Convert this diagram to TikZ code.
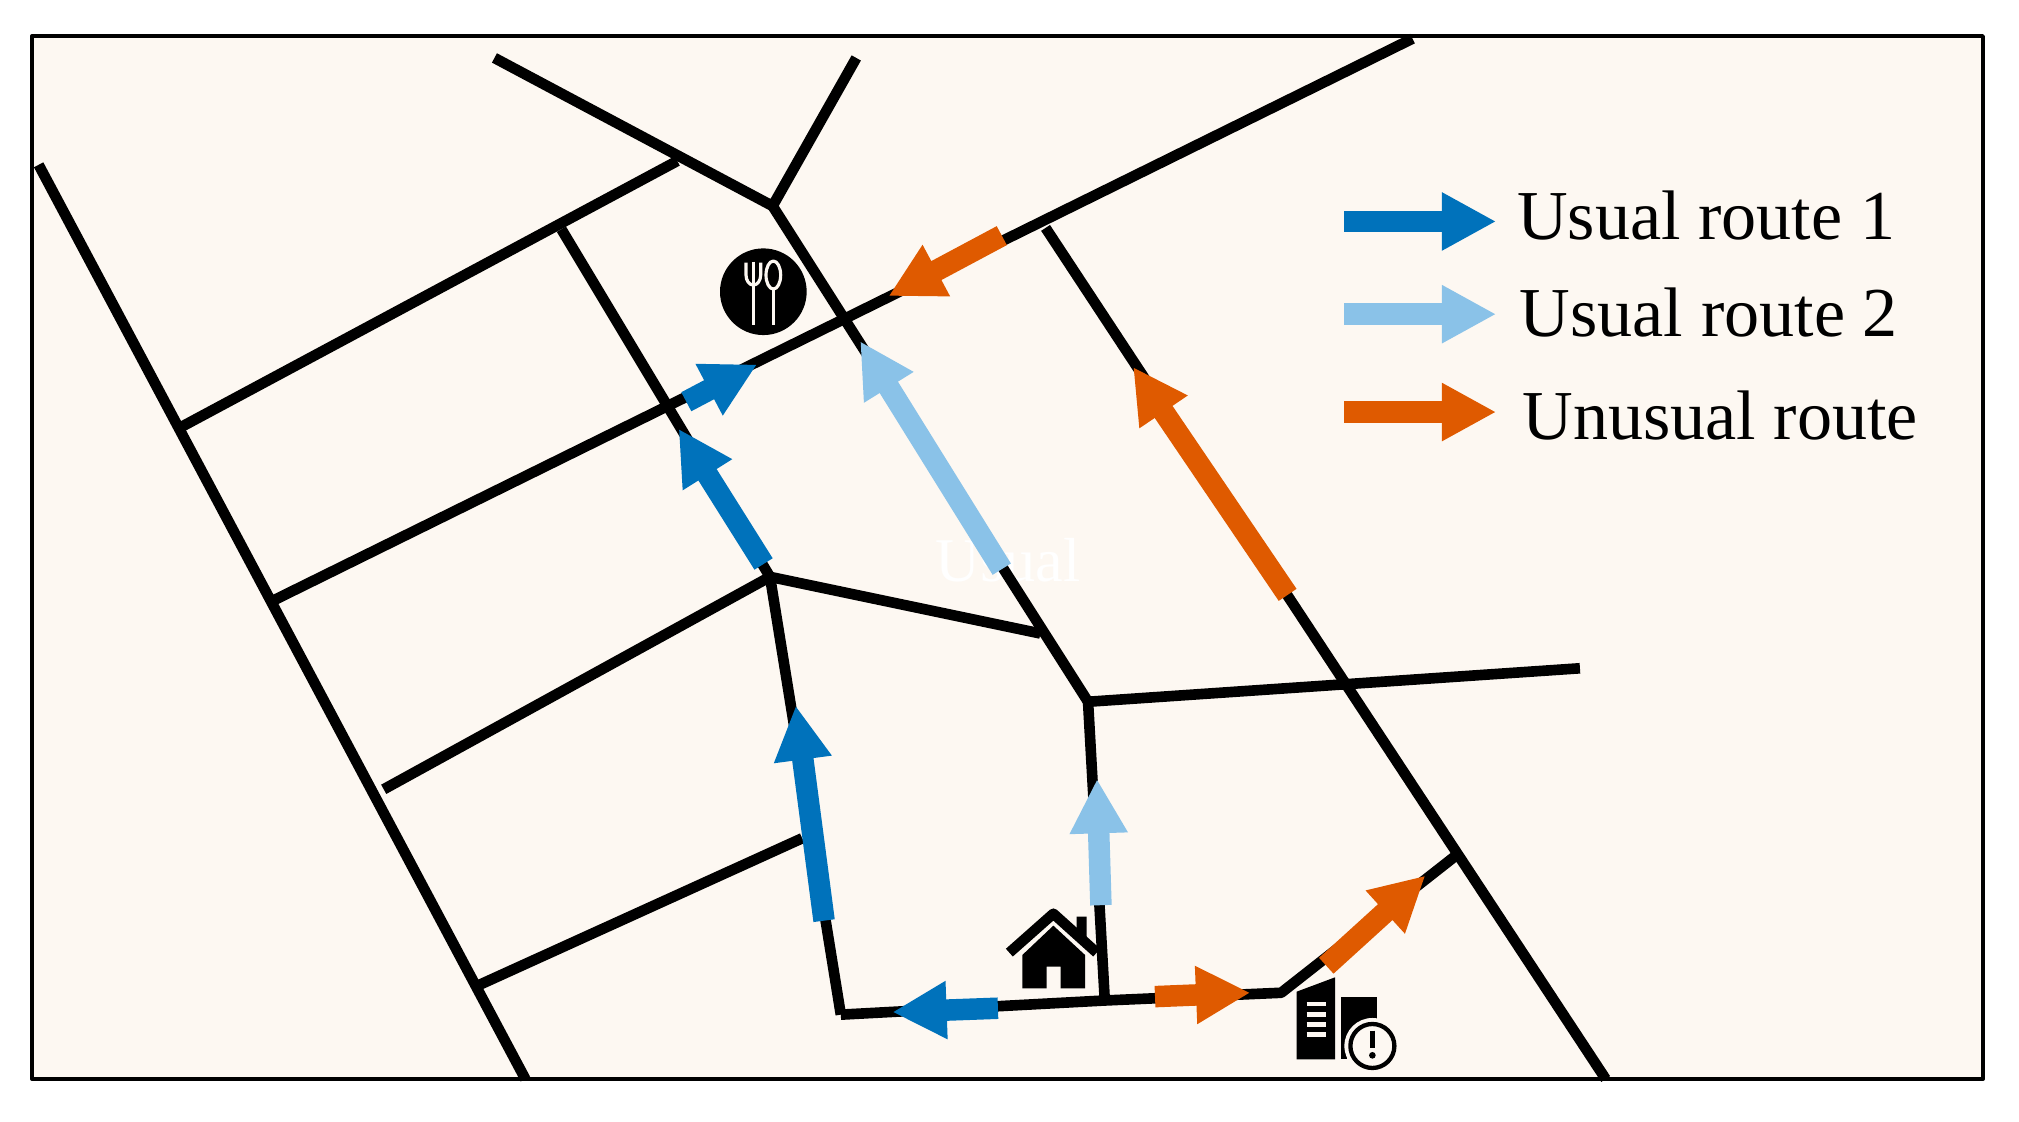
\documentclass[tikz,border=0pt]{standalone}
\usepackage{fontspec}
\setmainfont{Liberation Serif}
\usetikzlibrary{arrows.meta,positioning}
\definecolor{paper}{HTML}{FDF8F2}
\definecolor{routeone}{HTML}{0072BB}
\definecolor{routetwo}{HTML}{8AC2E8}
\definecolor{routeodd}{HTML}{DF5A00}
\tikzset{
    road/.style={line width=4.7pt,black},
    route/.style={line width=9.5pt,-{Triangle[length=24pt,width=24pt]}},
    legendtext/.style={anchor=base west,inner sep=0pt,font=\fontsize{31}{36}\selectfont},
}
\begin{document}
\begin{tikzpicture}[x=0.02cm,y=-0.02cm,line join=round]
    \useasboundingbox (0,0) rectangle (1568,871);
    \fill[white] (0,0) rectangle (1568,871);
    \draw[fill=paper,line width=1.7pt] (25,28) rectangle (1540,838);
    % hidden word
    \node[white,inner sep=0pt,font=\fontsize{27.5}{30}\selectfont] (hidden) at (783,435) {Usual};
    % junctions
    \coordinate (topfork) at (600,160);
    \coordinate (midleft) at (598,448);
    \coordinate (midright) at (808,492);
    \coordinate (crossing) at (845,545);
    \coordinate (corner) at (653,788);
    \coordinate (home) at (858,777);
    \coordinate (bend) at (995,771);
    \coordinate (sideend) at (1130,665);
    % roads
    \draw[road] (30,128)--(408,838);
    \draw[road] (140,332)--(526,125);
    \draw[road] (213,466)--(1097,30);
    \draw[road] (298,613)--(midleft);
    \draw[road] (372,765)--(623,651);
    \draw[road] (384,45)--(topfork)--(665,45);
    \draw[road] (topfork)--(crossing)--(1227,519);
    \draw[road] (crossing)--(home);
    \draw[road] (corner)--(home)--(bend)--(sideend);
    \draw[road] (436,178)--(midleft)--(corner);
    \draw[road] (midleft)--(midright);
    \draw[road] (812,177)--(1247,838);
    % routes
    \draw[route,routeone] (640,715)--(618,548);
    \draw[route,routeone] (593,438)--(527,333);
    \draw[route,routeone] (533,312)--(588,283);
    \draw[route,routeone] (775,783)--(693,786);
    \draw[route,routetwo] (855,703)--(852,605);
    \draw[route,routetwo] (778,442)--(668,265);
    \draw[route,routeodd] (1000,462)--(880,285);
    \draw[route,routeodd] (778,183)--(690,230);
    \draw[route,routeodd] (897,774)--(971,771);
    \draw[route,routeodd] (1030,750)--(1107,680);
    % legend
    \node[legendtext] (one) at (1178,186) {Usual route 1};
    \node[legendtext] (two) at (1180,261) {Usual route 2};
    \node[legendtext] (odd) at (1182,341) {Unusual route};
    \coordinate (onestart) at (1044,172);
    \coordinate (twostart) at (1044,244);
    \coordinate (oddstart) at (1044,320);
    \draw[route,routeone] (onestart)--(1162,172);
    \draw[route,routetwo] (twostart)--(1162,244);
    \draw[route,routeodd] (oddstart)--(1162,320);
    % restaurant
    \begin{scope}[shift={(504.8,170.9)},scale=0.2589]
        \fill (340,215) circle(130);
        \draw[paper,line width=1.4pt] (288,128)--(288,165) arc[start angle=180,end angle=360,x radius=22,y radius=-30]--(332,128);
        \draw[paper,line width=1.4pt] (310,125)--(310,315);
        \draw[paper,line width=1.4pt] (370,165) ellipse[x radius=22,y radius=42];
        \draw[paper,line width=1.4pt] (370,207)--(370,315);
    \end{scope}
    % house
    \begin{scope}[shift={(737.8,683.4)},scale=0.2589]
        \draw[line width=4.6pt] (178,218)--(310,101)--(440,218);
        \fill (380,110)--(410,110)--(410,175)--(380,145)--cycle;
        \fill (310,137)--(405,225)--(405,325)--(332,325)--(332,260)--(290,260)--(290,325)--(217,325)--(217,225)--cycle;
    \end{scope}
    % office
    \begin{scope}[shift={(737.8,683.4)},scale=0.2589]
        \fill (1040,335)--(1155,292)--(1155,538)--(1040,538)--cycle;
        \foreach \y in {372,403,433,463}{
            \draw[paper,line width=2pt] (1070,\y)--(1128,\y);
        }
        \fill (1172,352) rectangle (1280,408);
        \fill (1172,352) rectangle (1192,538);
        \fill (1172,352) rectangle (1280,470);
        \fill[paper] (1267,498) circle(84);
        \draw[line width=1.9pt] (1267,498) circle(66);
        \draw[line width=1.9pt] (1267,452)--(1267,505);
        \fill (1267,526) circle(10);
    \end{scope}
\end{tikzpicture}
\end{document}
